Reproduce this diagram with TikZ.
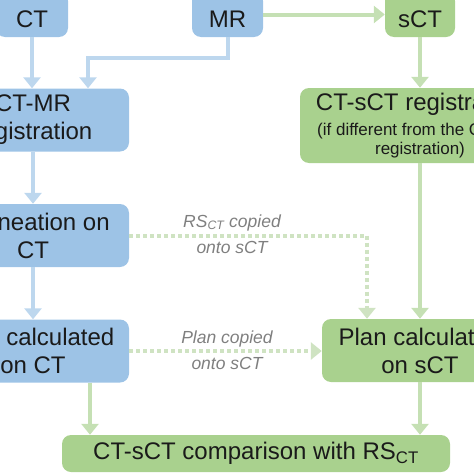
\documentclass[tikz,border=0pt]{standalone}
\usepackage{fontspec}
\setmainfont{Liberation Sans}
\usetikzlibrary{arrows.meta}
\definecolor{Ink}{HTML}{1A1A1A}
\definecolor{Gray}{HTML}{7F7F7F}
\definecolor{BoxBlue}{HTML}{9DC3E6}
\definecolor{BoxGreen}{HTML}{A9D18E}
\definecolor{LineBlue}{HTML}{BDD7EE}
\definecolor{LineGreen}{HTML}{C5E0B4}
\definecolor{DotGreen}{HTML}{CFE3C2}
\newcommand{\subline}{\fontsize{17}{20}\selectfont}

\begin{document}
\begin{tikzpicture}[
  x=1pt, y=-1pt,
  font=\fontsize{24}{28}\selectfont, text=Ink,
  box/.style={rounded corners=9pt, align=center, inner sep=0pt},
  ctbox/.style={box, fill=BoxBlue},
  sctbox/.style={box, fill=BoxGreen},
  toprow/.style={minimum height=45pt, text height=25pt, text depth=0pt},
  leftcol/.style={ctbox, minimum width=192pt, minimum height=63pt},
  note/.style={font=\itshape\fontsize{17.5}{26}\selectfont, text=Gray, align=center},
  barrow/.style={-{Triangle[width=17pt, length=11pt]}, line width=4pt, draw=LineBlue},
  garrow/.style={barrow, draw=LineGreen},
  dotarrow/.style={barrow, draw=DotGreen, dash pattern=on 4pt off 3pt}
]
\clip (0,0) rectangle (474,474);

\node[ctbox, toprow, minimum width=72pt] (ct) at (32,14.5) {CT};
\node[ctbox, toprow, minimum width=71pt] (mr) at (227.5,14.5) {MR};
\node[sctbox, toprow, minimum width=70pt] (sct) at (420,14.5) {sCT};

\node[leftcol] (ctmr) at (33,120) {CT-MR\\registration};
\node[leftcol] (delin) at (33,235.5) {Delineation on\\CT};
\node[leftcol] (planct) at (33,351) {Plan calculated\\on CT};

\node[sctbox, minimum width=240pt, minimum height=75pt] (ctsct) at (420,125.5)
  {CT-sCT registration\\[-3pt]\subline (if different from the CT-MR\\[-9pt]\subline registration)};
\node[sctbox, minimum width=196pt, minimum height=63pt] (plansct) at (420,350.5) {Plan calculated\\on sCT};
\node[sctbox, minimum width=388pt, minimum height=37pt] (comp) at (256,453.5)
  {CT-sCT comparison with RS\textsubscript{CT}};

\node[note] (rsnote) at (232,234) {RS\textsubscript{CT} copied\\onto sCT};
\node[note] (plannote) at (227,350) {Plan copied\\onto sCT};

\draw[barrow] (ct.south) -- (ct.south |- ctmr.north);
\draw[barrow] (mr.south) -- ++(0,21) -| ([xshift=55pt]ctmr.north);
\draw[barrow] (ctmr) -- (delin);
\draw[barrow] (delin) -- (planct);
\draw[garrow] (mr) -- (sct);
\draw[garrow] (sct) -- (ctsct);
\draw[garrow] (ctsct) -- (plansct);
\draw[garrow] (plansct.south) -- (plansct.south |- comp.north);
\draw[garrow] ([xshift=57pt]planct.south) -- ([xshift=57pt]planct.south |- comp.north);
\draw[dotarrow] (delin.east) -| ([xshift=-53pt]plansct.north);
\draw[dotarrow] (planct.east) -- (plansct.west |- planct.east);
\end{tikzpicture}
\end{document}
